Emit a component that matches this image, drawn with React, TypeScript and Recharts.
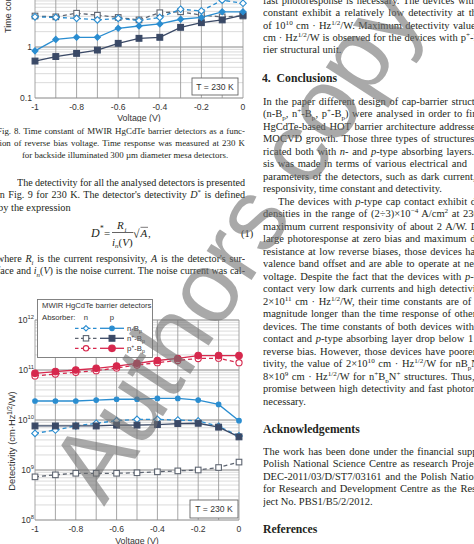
import React from "react";
import { LineChart, Line, XAxis, YAxis, CartesianGrid, ReferenceLine } from "recharts";

const SANS = '"Liberation Sans", Arial, sans-serif';
const SERIF = '"Liberation Serif", "Times New Roman", serif';
const INK = "#231f20";
const AXIS = "#333";

const RED = "#d6284d";
const BLUE = "#2a8dd0";
const NAVY = "#3a4966";
const GREY = "#5e6571";

// bias voltage (V), shared by Fig. 8 and Fig. 9
const voltages = [-1, -0.9, -0.8, -0.7, -0.6, -0.5, -0.4, -0.3, -0.2, -0.1, 0];
const voltLabels = [-1, -0.8, -0.6, -0.4, -0.2, 0];

// Fig. 8, time constant (µs) - only the lower part is on the page
const tauNBpN = [3.9, 3.8, 3.65, 3.4, 3.65, 3.3, 3.8, 5.5, 5.1, 8.3, 7.2];
const tauNBpP = [0.84, 1.41, 1.55, 1.55, 2.33, 2.58, 2.83, 3.5, 3.8, 4.9, 4.9];
const tauNpBpN = [4.05, 3.9, 4.6, 4.2, 3.8, 3.4, 4.7, 4.9, 4.2, 3.9, 4.05];
const tauNpBpP = [0.53, 0.65, 0.75, 0.87, 1.18, 1.48, 1.55, 2.43, 3.0, 3.4, 4.2];
const tauDecades = [-1, 0, 1, 2];

// Fig. 9, detectivity (cm·Hz^1/2/W)
const detNBpN = [5.4e9, 6.3e9, 7.6e9, 8.6e9, 9.7e9, 1.03e10, 1.03e10, 1.0e10, 9.6e9, 7.5e9, 4.8e9];
const detNBpP = [2.4e10, 2.4e10, 2.4e10, 2.5e10, 2.6e10, 2.6e10, 2.7e10, 2.7e10, 2.5e10, 2.05e10, 9.7e9];
const detNpBpN = [7.3e8, 8.0e8, 8.6e8, 8.6e8, 8.6e8, 8.8e8, 9.2e8, 9.6e8, 1.0e9, 1.12e9, 1.44e9];
const detNpBpP = [7.6e9, 7.6e9, 7.6e9, 7.6e9, 7.9e9, 7.9e9, 8.1e9, 8.5e9, 8.6e9, 7.2e9, 4.6e9];
const detPpBpN = [7.6e10, 8.3e10, 9.0e10, 9.7e10, 1.1e11, 1.26e11, 1.4e11, 1.55e11, 1.7e11, 1.72e11, 1.4e11];
const detPpBpP = [8.6e10, 9.3e10, 1.0e11, 1.08e11, 1.2e11, 1.36e11, 1.55e11, 1.7e11, 1.94e11, 1.94e11, 1.94e11];
const detDecades = [8, 9, 10, 11, 12];

const tauData = voltages.map((v, i) => ({
  v,
  nBpN: tauNBpN[i],
  nBpP: tauNBpP[i],
  npBpN: tauNpBpN[i],
  npBpP: tauNpBpP[i],
}));

const detData = voltages.map((v, i) => ({
  v,
  nBpN: detNBpN[i],
  nBpP: detNBpP[i],
  npBpN: detNpBpN[i],
  npBpP: detNpBpP[i],
  ppBpN: detPpBpN[i],
  ppBpP: detPpBpP[i],
}));

// decade + minor ticks for the log grids
const logTicks = (decades: number[]) => {
  const out: number[] = [];
  decades.forEach((e, i) => {
    if (i === decades.length - 1) out.push(Math.pow(10, e));
    else for (let m = 1; m < 10; m++) out.push(m * Math.pow(10, e));
  });
  return out;
};

type Shape = "diamond" | "square" | "circle";
type Series = { key: string; color: string; dashed: boolean; shape: Shape; size: number };

const tauSeries: Series[] = [
  { key: "npBpN", color: GREY, dashed: true, shape: "square", size: 2.8 },
  { key: "nBpN", color: BLUE, dashed: true, shape: "diamond", size: 3.3 },
  { key: "npBpP", color: NAVY, dashed: false, shape: "square", size: 2.9 },
  { key: "nBpP", color: BLUE, dashed: false, shape: "diamond", size: 3.0 },
];

const detSeries: Series[] = [
  { key: "npBpN", color: GREY, dashed: true, shape: "square", size: 2.8 },
  { key: "nBpN", color: BLUE, dashed: true, shape: "diamond", size: 3.3 },
  { key: "npBpP", color: NAVY, dashed: false, shape: "square", size: 2.9 },
  { key: "nBpP", color: BLUE, dashed: false, shape: "circle", size: 2.3 },
  { key: "ppBpN", color: RED, dashed: true, shape: "circle", size: 3.1 },
  { key: "ppBpP", color: RED, dashed: false, shape: "circle", size: 3.3 },
];

function Marker({ cx, cy, shape, color, filled, size }: any) {
  if (cx == null || cy == null) return null;
  const fill = filled ? color : "#fff";
  if (shape === "circle")
    return <circle cx={cx} cy={cy} r={size} fill={fill} stroke={color} strokeWidth={1.1} />;
  if (shape === "square")
    return <rect x={cx - size} y={cy - size} width={size * 2} height={size * 2} fill={fill} stroke={color} strokeWidth={1.1} />;
  return (
    <polygon
      points={`${cx},${cy - size} ${cx + size},${cy} ${cx},${cy + size} ${cx - size},${cy}`}
      fill={fill}
      stroke={color}
      strokeWidth={1.1}
    />
  );
}

const renderLines = (list: Series[]) =>
  list.map((s) => (
    <Line
      key={s.key}
      dataKey={s.key}
      stroke={s.color}
      strokeWidth={1.3}
      strokeDasharray={s.dashed ? "4 3" : undefined}
      isAnimationActive={false}
      dot={(p: any) => (
        <Marker key={`${s.key}-${p.index}`} cx={p.cx} cy={p.cy} shape={s.shape} color={s.color} filled={!s.dashed} size={s.size} />
      )}
      activeDot={false}
    />
  ));

const VoltTick = ({ x, y, payload }: any) => {
  if (!voltLabels.includes(payload.value)) return <g />;
  return (
    <text x={x} y={y} dy="0.71em" textAnchor="middle" fontSize={8.6} fill={AXIS} fontFamily={SANS}>
      {String(payload.value)}
    </text>
  );
};

const isDecade = (v: number) => Math.abs(Math.log10(v) - Math.round(Math.log10(v))) < 1e-9;

const PowTick = ({ x, y, payload }: any) => {
  if (!isDecade(payload.value)) return <g />;
  return (
    <text x={x} y={y} dy="0.4em" textAnchor="end" fontSize={8.6} fill={AXIS} fontFamily={SANS}>
      <tspan>10</tspan>
      <tspan dy={-4.5} fontSize={5.8}>
        {Math.round(Math.log10(payload.value))}
      </tspan>
    </text>
  );
};

const PlainTick = ({ x, y, payload }: any) => {
  if (!isDecade(payload.value)) return <g />;
  return (
    <text x={x} y={y} dy="0.36em" textAnchor="end" fontSize={8.6} fill={AXIS} fontFamily={SANS}>
      {String(payload.value)}
    </text>
  );
};

function TimeChart() {
  return (
    <LineChart width={248} height={182} data={tauData} margin={{ top: 5, right: 5, bottom: 0, left: 0 }}>
      <CartesianGrid vertical={false} stroke="#d2d2d2" strokeWidth={0.8} />
      <CartesianGrid horizontal={false} stroke="#9c9c9c" strokeWidth={0.9} />
      {tauDecades.map((e) => (
        <ReferenceLine key={e} y={Math.pow(10, e)} stroke="#8e8e8e" strokeWidth={0.9} />
      ))}
      <XAxis
        dataKey="v"
        type="number"
        domain={[-1, 0]}
        ticks={voltages}
        interval={0}
        tick={<VoltTick />}
        tickLine={false}
        axisLine={false}
        tickSize={4}
        tickMargin={2}
        height={24}
        label={{ value: "Voltage (V)", position: "insideBottom", offset: 1, fontSize: 8.8, fill: AXIS, fontFamily: SANS }}
      />
      <YAxis
        type="number"
        scale="log"
        domain={[0.1, 100]}
        ticks={logTicks(tauDecades)}
        interval={0}
        allowDataOverflow
        tick={<PlainTick />}
        tickLine={false}
        axisLine={false}
        tickSize={0}
        tickMargin={3}
        width={35}
      />
      {renderLines(tauSeries)}
    </LineChart>
  );
}

function DetectivityChart() {
  return (
    <LineChart width={244} height={229} data={detData} margin={{ top: 5, right: 5, bottom: 0, left: 0 }}>
      <CartesianGrid vertical={false} stroke="#d2d2d2" strokeWidth={0.8} />
      <CartesianGrid horizontal={false} stroke="#9c9c9c" strokeWidth={0.9} />
      {detDecades.map((e) => (
        <ReferenceLine key={e} y={Math.pow(10, e)} stroke="#8e8e8e" strokeWidth={0.9} />
      ))}
      <XAxis
        dataKey="v"
        type="number"
        domain={[-1, 0]}
        ticks={voltages}
        interval={0}
        tick={<VoltTick />}
        tickLine={false}
        axisLine={false}
        tickSize={4}
        tickMargin={2}
        height={24}
        label={{ value: "Voltage (V)", position: "insideBottom", offset: 0, fontSize: 8.8, fill: AXIS, fontFamily: SANS }}
      />
      <YAxis
        type="number"
        scale="log"
        domain={[1e8, 1e12]}
        ticks={logTicks(detDecades)}
        interval={0}
        allowDataOverflow
        tick={<PowTick />}
        tickLine={false}
        axisLine={false}
        tickSize={0}
        tickMargin={1}
        width={35}
      />
      {renderLines(detSeries)}
    </LineChart>
  );
}

const legendRows = [
  { label: "n", sup: "", color: BLUE, nColor: BLUE, shapeN: "diamond", shapeP: "circle", sizeP: 2.3 },
  { label: "n", sup: "+", color: NAVY, nColor: GREY, shapeN: "square", shapeP: "square", sizeP: 2.9 },
  { label: "p", sup: "+", color: RED, nColor: RED, shapeN: "circle", shapeP: "circle", sizeP: 3.3 },
];

function LegendBox() {
  return (
    <svg width={118} height={60} style={{ position: "absolute", left: 37, top: 299 }}>
      <rect x={0.5} y={0.5} width={115} height={58} fill="#fff" stroke="#777" strokeWidth={0.9} />
      <g fontFamily={SANS} fontSize={7.7} fill={AXIS}>
        <text x={5} y={8.7}>MWIR HgCdTe barrier detectors</text>
        <text x={5} y={21.4}>Absorber:</text>
        <text x={49} y={21.4} textAnchor="middle">n</text>
        <text x={75} y={21.4} textAnchor="middle">p</text>
      </g>
      {legendRows.map((r, i) => {
        const y = 29.3 + i * 10;
        return (
          <g key={i}>
            <line x1={38} x2={60} y1={y} y2={y} stroke={r.nColor} strokeWidth={1.2} strokeDasharray="3.5 2.5" />
            <Marker cx={49} cy={y} shape={r.shapeN} color={r.nColor} filled={false} size={2.7} />
            <line x1={63} x2={87} y1={y} y2={y} stroke={r.color} strokeWidth={1.3} />
            <Marker cx={75} cy={y} shape={r.shapeP} color={r.color} filled size={r.sizeP} />
            <text x={90} y={y + 2.8} fontFamily={SANS} fontSize={7.7} fill={AXIS}>
              {r.label}
              {r.sup ? (
                <tspan dy={-3} fontSize={5.2}>
                  {r.sup}
                </tspan>
              ) : null}
              <tspan dy={r.sup ? 3 : 0}>-B</tspan>
              <tspan dy={2} fontSize={5.2}>
                p
              </tspan>
            </text>
          </g>
        );
      })}
    </svg>
  );
}

function TempBox({ x, y, w, h }: { x: number; y: number; w: number; h: number }) {
  return (
    <svg width={w + 2} height={h + 2} style={{ position: "absolute", left: x - 1, top: y - 1 }}>
      <rect x={1} y={1} width={w} height={h} fill="#fff" stroke="#666" strokeWidth={0.9} />
      <text x={w / 2 + 1} y={h / 2 + 4} textAnchor="middle" fontSize={8.6} fontFamily={SANS} fill={AXIS}>
        T = 230 K
      </text>
    </svg>
  );
}

const S = ({ children }: any) => <sup style={{ fontSize: "0.68em", lineHeight: 0 }}>{children}</sup>;
const Sb = ({ children }: any) => <sub style={{ fontSize: "0.68em", lineHeight: 0 }}>{children}</sub>;

function TL({ y, x, w, size = 10.5, lh = 12.5, align = "n", ws = 0, bold, children }: any) {
  return (
    <div
      style={{
        position: "absolute",
        left: x,
        top: y - lh / 2 - size * 0.11,
        width: w,
        height: lh,
        lineHeight: `${lh}px`,
        fontSize: size,
        fontFamily: SERIF,
        fontWeight: bold ? 700 : 400,
        color: INK,
        wordSpacing: ws,
        whiteSpace: align === "n" ? "nowrap" : "normal",
        overflow: "hidden",
        textAlign: align === "j" ? "justify" : align === "c" ? "center" : "left",
        textAlignLast: align === "j" ? "justify" : undefined,
      }}
    >
      {children}
    </div>
  );
}

const RX = 263;
const RW = 260;
const WS = 1.0;
const rowA = (i: number) => 2.6 + i * 12.3;
const rowB = (i: number) => 103.3 + i * 12.5;
const rowC = (i: number) => 453.3 + i * 12.5;

function RightColumn() {
  // [content, is last line of paragraph]
  const main: [React.ReactNode, boolean][] = [
    [<>In the paper different design of cap-barrier structures</>, false],
    [
      <>
        (n-B<Sb>p</Sb>, n<S>+</S>-B<Sb>p</Sb>, p<S>+</S>-B<Sb>p</Sb>) were analysed in order to find the
      </>,
      false,
    ],
    [<>HgCdTe-based HOT barrier architecture addressed to</>, false],
    [<>MOCVD growth. Those three types of structures were</>, false],
    [
      <>
        ricated both with <i>n</i>- and <i>p</i>-type absorbing layers. The
      </>,
      false,
    ],
    [<>sis was made in terms of various electrical and</>, false],
    [<>parameters of the detectors, such as dark current,</>, false],
    [<>responsivity, time constant and detectivity.</>, true],
    [
      <>
        The devices with <i>p</i>-type cap contact exhibit dark
      </>,
      false,
    ],
    [
      <>
        densities in the range of (2÷3)×10<S>−4</S> A/cm<S>2</S> at 230 K
      </>,
      false,
    ],
    [<>maximum current responsivity of about 2 A/W. Due</>, false],
    [<>large photoresponse at zero bias and maximum dynamic</>, false],
    [<>resistance at low reverse biases, those devices have</>, false],
    [<>valence band offset and are able to operate at near zero</>, false],
    [
      <>
        voltage. Despite the fact that the devices with <i>p</i>-type
      </>,
      false,
    ],
    [<>contact very low dark currents and high detectivity of</>, false],
    [
      <>
        2×10<S>11</S> cm · Hz<S>1/2</S>/W, their time constants are of an order
      </>,
      false,
    ],
    [<>magnitude longer than the time response of other</>, false],
    [
      <>
        devices. The time constants of both devices with <i>n</i>-type
      </>,
      false,
    ],
    [
      <>
        contact and <i>p</i>-type absorbing layer drop below 1 µs
      </>,
      false,
    ],
    [<>reverse bias. However, those devices have poorer</>, false],
    [
      <>
        tivity, the value of 2×10<S>10</S> cm · Hz<S>1/2</S>/W for nB<Sb>p</Sb>N<S>+</S>
      </>,
      false,
    ],
    [
      <>
        8×10<S>9</S> cm · Hz<S>1/2</S>/W for n<S>+</S>B<Sb>p</Sb>N<S>+</S> structures. Thus, the
      </>,
      false,
    ],
    [<>promise between high detectivity and fast photoresponse</>, false],
    [<>necessary.</>, true],
  ];
  const ack: [React.ReactNode, boolean][] = [
    [<>The work has been done under the financial support</>, false],
    [<>Polish National Science Centre as research Project</>, false],
    [<>DEC-2011/03/D/ST7/03161 and the Polish National</>, false],
    [<>for Research and Development Centre as the Research</>, false],
    [<>ject No. PBS1/B5/2/2012.</>, true],
  ];
  return (
    <>
      <TL y={rowA(0)} x={RX} w={RW} ws={WS}>
        fast photoresponse is necessary. The devices with <i>n</i>-type
      </TL>
      <TL y={rowA(1)} x={RX} w={RW} ws={WS + 0.6}>
        constant exhibit a relatively low detectivity at the level
      </TL>
      <TL y={rowA(2)} x={RX} w={RW} ws={WS - 0.3}>
        of 10<S>10</S> cm · Hz<S>1/2</S>/W. Maximum detectivity value of
      </TL>
      <TL y={rowA(3)} x={RX} w={RW} ws={WS - 0.6}>
        cm · Hz<S>1/2</S>/W is observed for the devices with p<S>+</S>-B<Sb>p</Sb> bar-
      </TL>
      <TL y={rowA(4)} x={RX} w={RW}>
        rier structural unit.
      </TL>
      <TL y={80} x={RX - 1} w={RW} size={11.7} lh={14} bold>
        4.{"\u2002"}Conclusions
      </TL>
      {main.map(([node, last], i) => (
        <TL key={i} y={rowB(i)} x={i === 8 ? RX + 15 : RX} w={RW} ws={last ? 0 : WS}>
          {node}
        </TL>
      ))}
      <TL y={431.7} x={RX} w={RW} size={11.7} lh={14} bold>
        Acknowledgements
      </TL>
      {ack.map(([node, last], i) => (
        <TL key={i} y={rowC(i)} x={RX} w={RW} ws={last ? 0 : WS}>
          {node}
        </TL>
      ))}
      <TL y={531.7} x={RX} w={RW} size={11.7} lh={14} bold>
        References
      </TL>
    </>
  );
}

const LX = -3;
const LW = 248;
const LF = 10.1;

function LeftColumn() {
  return (
    <>
      <TL y={133.3} x={LX} w={LW} size={8.9} lh={11.7} align="j" ws={-0.8}>
        Fig. 8. Time constant of MWIR HgCdTe barrier detectors as a func-
      </TL>
      <TL y={145} x={LX} w={LW} size={8.9} lh={11.7} align="j" ws={-0.8}>
        tion of reverse bias voltage. Time response was measured at 230 K
      </TL>
      <TL y={156.7} x={LX + 4} w={LW} size={8.9} lh={11.7} align="c">
        for backside illuminated 300 µm diameter mesa detectors.
      </TL>
      <TL y={184.3} x={LX + 20} w={LW - 20} size={LF} align="j" ws={-0.4}>
        The detectivity for all the analysed detectors is presented
      </TL>
      <TL y={196.7} x={LX} w={LW} size={LF} align="j" ws={-0.4}>
        in Fig. 9 for 230 K. The detector's detectivity <i>D</i>
        <S>*</S> is defined
      </TL>
      <TL y={209.3} x={LX + 1} w={LW} size={10.4} align="l">
        by the expression
      </TL>
      <TL y={260} x={LX} w={LW} size={LF} align="j" ws={-0.4}>
        where <i>R</i>
        <Sb>
          <i>i</i>
        </Sb>{" "}
        is the current responsivity, <i>A</i> is the detector's sur-
      </TL>
      <TL y={272.7} x={LX} w={LW} size={LF} align="j" ws={-0.4}>
        face and <i>i</i>
        <Sb>
          <i>n</i>
        </Sb>
        (<i>V</i>) is the noise current. The noise current was cal-
      </TL>
      <svg width={474} height={544} style={{ position: "absolute", left: 0, top: 0, pointerEvents: "none" }}>
        <g fontFamily={SERIF} fill={INK}>
          <text x={91} y={237} fontSize={12} fontStyle="italic">
            D
          </text>
          <text x={100} y={231} fontSize={7.5}>
            *
          </text>
          <text x={104} y={237} fontSize={11}>
            =
          </text>
          <text x={117} y={229} fontSize={11} fontStyle="italic">
            R
          </text>
          <text x={124.5} y={231.5} fontSize={7} fontStyle="italic">
            i
          </text>
          <line x1={112} x2={133} y1={232.5} y2={232.5} stroke={INK} strokeWidth={0.7} />
          <text x={112} y={245.5} fontSize={11}>
            <tspan fontStyle="italic">i</tspan>
            <tspan dy={2} fontSize={7} fontStyle="italic">
              n
            </tspan>
            <tspan dy={-2}>(</tspan>
            <tspan fontStyle="italic">V</tspan>
            <tspan>)</tspan>
          </text>
          <text x={133} y={238} fontSize={12}>
            √
          </text>
          <line x1={140.5} x2={148} y1={227.3} y2={227.3} stroke={INK} strokeWidth={0.6} />
          <text x={140.5} y={237} fontSize={11} fontStyle="italic">
            A
          </text>
          <text x={148} y={237} fontSize={11}>
            ,
          </text>
          <text x={241} y={237} fontSize={10.5}>
            (1)
          </text>
        </g>
      </svg>
    </>
  );
}

function AxisTitles() {
  return (
    <svg width={474} height={544} style={{ position: "absolute", left: 0, top: 0, pointerEvents: "none" }}>
      <text transform="rotate(-90)" x={-33} y={11} fontSize={9} fontFamily={SANS} fill={AXIS}>
        Time constant (µs)
      </text>
      <text transform="rotate(-90)" x={-441} y={15} textAnchor="middle" fontSize={9.4} fontFamily={SANS} fill={AXIS}>
        Detectivity (cm·Hz
        <tspan dy={-3.5} fontSize={6.3}>
          1/2
        </tspan>
        <tspan dy={3.5}>/W)</tspan>
      </text>
    </svg>
  );
}

function Watermark() {
  const x = 104;
  const y = 507;
  return (
    <svg width={474} height={544} style={{ position: "absolute", left: 0, top: 0, pointerEvents: "none" }}>
      <text
        x={x}
        y={y}
        transform={`rotate(-57 ${x} ${y})`}
        fontSize={101}
        fontFamily={SANS}
        fill="#6f6f6f"
        fillOpacity={0.6}
      >
        Authors copy
      </text>
    </svg>
  );
}

export default function App() {
  return (
    <div
      style={{
        position: "absolute",
        left: 0,
        top: 0,
        width: 474,
        height: 544,
        overflow: "hidden",
        background: "#fff",
      }}
    >
      <div style={{ position: "absolute", left: 0, top: -60 }}>
        <TimeChart />
      </div>
      <div style={{ position: "absolute", left: 0, top: 315 }}>
        <DetectivityChart />
      </div>
      <AxisTitles />
      <TempBox x={192} y={78} w={46} h={17} />
      <TempBox x={190} y={500} w={48} h={18} />
      <LegendBox />
      <LeftColumn />
      <RightColumn />
      <Watermark />
    </div>
  );
}
